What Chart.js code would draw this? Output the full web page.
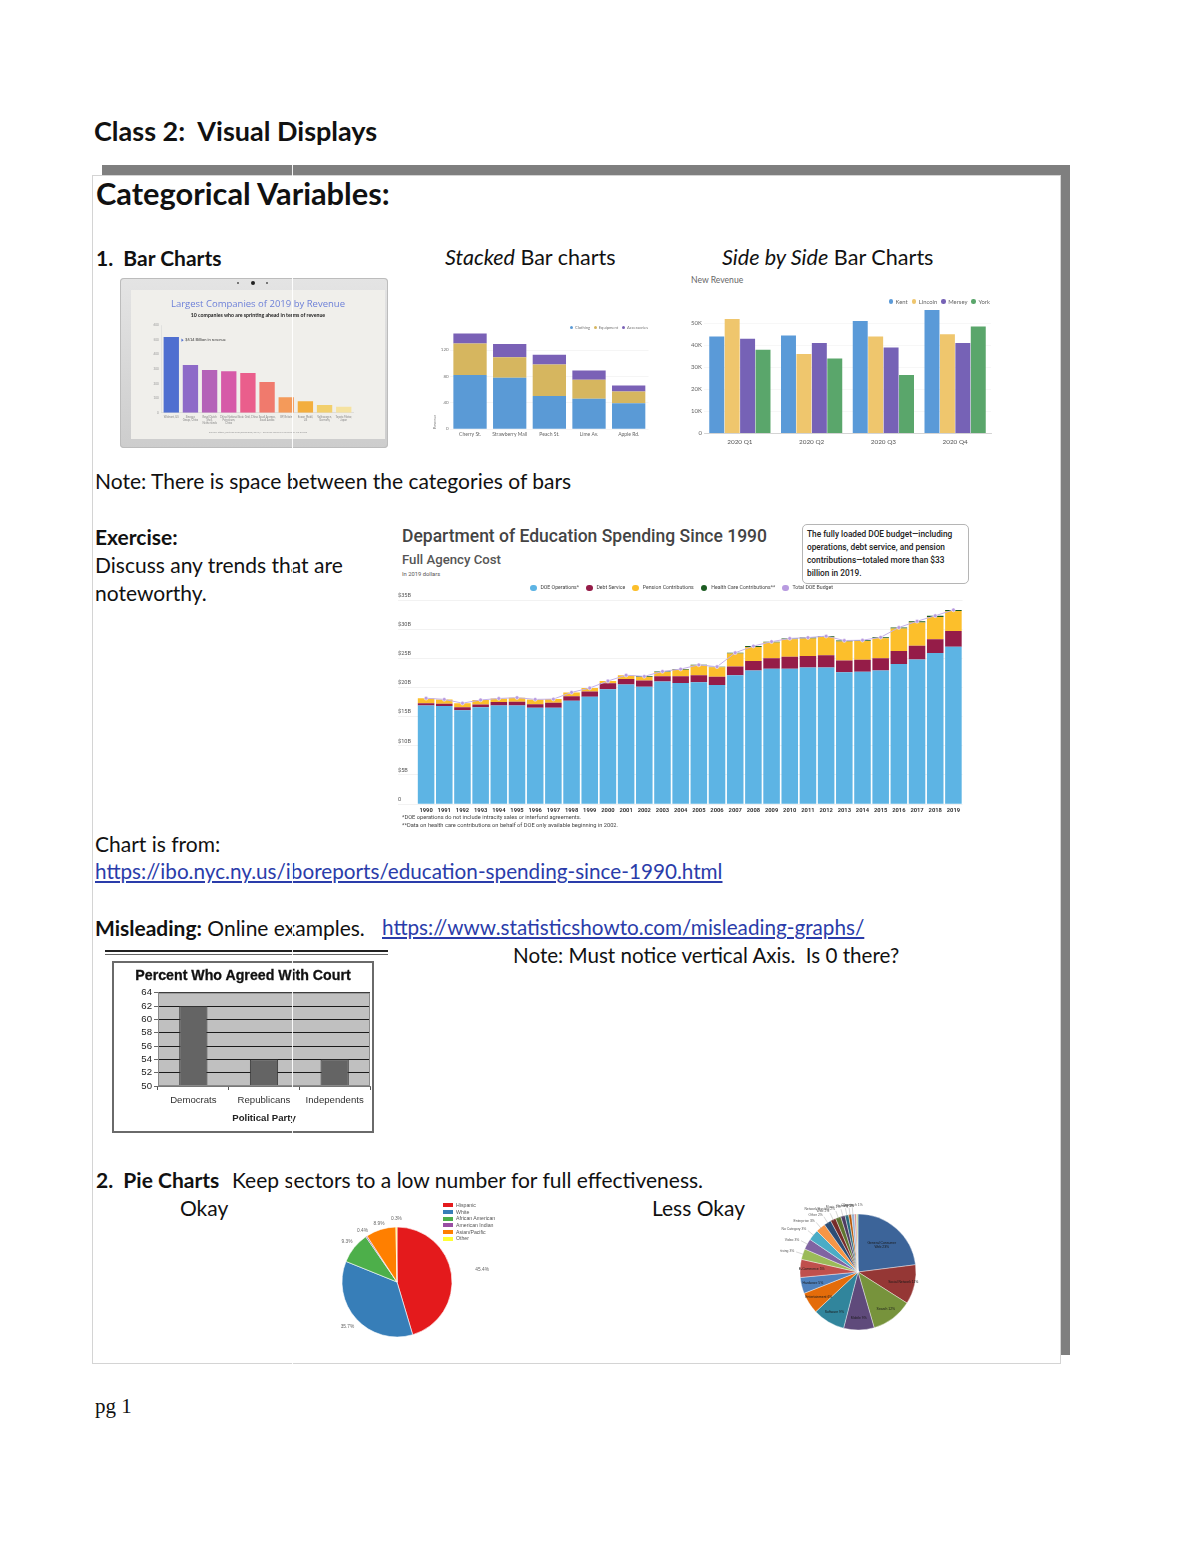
<!DOCTYPE html>
<html lang="en"><head><meta charset="utf-8"><title>Class 2: Visual Displays</title>
<script src="https://cdn.jsdelivr.net/npm/chart.js@4.4.1/dist/chart.umd.min.js"></script>
<style>
html,body{margin:0;padding:0;background:#fff}
body{width:1200px;height:1553px;position:relative;overflow:hidden;font-family:Lato,"Noto Sans",sans-serif;color:#111}
.t{position:absolute;white-space:nowrap;line-height:1}
.bx{position:absolute}
.bx canvas{display:block}
a{color:#2a3caa;text-decoration:underline}
.lg{position:absolute;display:flex;align-items:center;white-space:nowrap;line-height:1}
.lg .i{display:flex;align-items:center}
.p{font-size:21px}
</style></head><body>

<div class="t" style="left:94px;top:117px;font-size:27px;font-weight:700">Class 2:&nbsp; Visual Displays</div>

<div class="bx" style="left:102px;top:165px;width:968px;height:1190px;background:#7f7f7f"></div>
<div class="bx" style="left:92px;top:175px;width:967px;height:1187px;background:#fff;border:1px solid #d4d4d4"></div>

<div class="t" style="left:96px;top:179px;font-size:30.8px;font-weight:700">Categorical Variables:</div>
<div class="t" style="left:96px;top:247px;font-size:21px;font-weight:700">1.&nbsp; Bar Charts</div>
<div class="t" style="left:445px;top:247px;font-size:21.5px"><i>Stacked</i> Bar charts</div>
<div class="t" style="left:722px;top:247px;font-size:21.6px"><i>Side by Side</i> Bar Charts</div>

<!-- tablet frame for chart A -->
<div class="bx" style="left:120px;top:278px;width:268px;height:170px;background:linear-gradient(#e4e4e4,#cdcdcd);border-radius:4px;box-shadow:inset 0 0 0 1px #bcbcbc"></div>
<div class="bx" style="left:237px;top:282px;width:2px;height:2px;border-radius:50%;background:#555"></div>
<div class="bx" style="left:251px;top:281px;width:4px;height:4px;border-radius:50%;background:#222"></div>
<div class="bx" style="left:266px;top:282px;width:2px;height:2px;border-radius:50%;background:#555"></div>
<div class="bx" style="left:131px;top:290px;width:254px;height:149px;background:#f0efeb"><canvas id="chartA"></canvas></div>
<div class="t" style="left:131px;width:254px;text-align:center;top:299px;font-size:9.5px;color:#6d80d8;font-family:'Open Sans',sans-serif">Largest Companies of 2019 by Revenue</div>
<div class="t" style="left:131px;width:254px;text-align:center;top:313px;font-size:5.2px;font-weight:700;color:#222">10 companies who are sprinting ahead in terms of revenue</div>
<div class="t" style="left:131px;width:254px;text-align:center;top:431px;font-size:2.6px;color:#999">Source: https://fortune.com/global500/2019/ · Revenue figures in billions of US dollars</div>

<!-- chart B -->
<div class="bx" style="left:432px;top:318px;width:220px;height:122px"><canvas id="chartB"></canvas></div>
<div class="lg" id="legB" style="right:552px;top:325.5px;font-size:4.1px;color:#777"></div>

<!-- chart C -->
<div class="t" style="left:691px;top:276px;font-size:8.6px;color:#666">New Revenue</div>
<div class="bx" style="left:686px;top:290px;width:308px;height:160px"><canvas id="chartC"></canvas></div>
<div class="lg" id="legC" style="right:210px;top:298.5px;font-size:5.9px;color:#666"></div>

<div class="t p" style="left:95px;top:470px">Note: There is space between the categories of bars</div>

<div class="t p" style="left:95px;top:526px;font-weight:700">Exercise:</div>
<div class="t p" style="left:95px;top:554px">Discuss any trends that are</div>
<div class="t p" style="left:95px;top:582px">noteworthy.</div>

<!-- chart D -->
<div class="t" style="left:402px;top:527.5px;font-size:17.5px;font-weight:500;color:#444;font-family:Roboto,sans-serif">Department of Education Spending Since 1990</div>
<div class="t" style="left:402px;top:553px;font-size:13.2px;font-weight:500;color:#555;font-family:Roboto,sans-serif">Full Agency Cost</div>
<div class="t" style="left:402px;top:572px;font-size:5.8px;color:#555;font-family:Roboto,sans-serif">In 2019 dollars</div>
<div class="bx" style="left:802px;top:524px;width:161px;height:52px;border:1px solid #b5b5b5;border-radius:5px;padding:3px 0 3px 4px;font-family:Roboto,sans-serif;font-size:8.3px;font-weight:500;line-height:13px;color:#222;white-space:nowrap">The fully loaded DOE budget—including<br>operations, debt service, and pension<br>contributions—totaled more than $33<br>billion in 2019.</div>
<div class="bx" style="left:396px;top:590px;width:571px;height:228px"><canvas id="chartD"></canvas></div>
<div class="lg" id="legD" style="left:396px;width:571px;justify-content:center;top:584.5px;font-size:5.2px;color:#444;font-family:Roboto,sans-serif"></div>
<div class="t" style="left:402px;top:815px;font-size:5.7px;color:#444;font-family:Roboto,sans-serif">*DOE operations do not include intracity sales or interfund agreements.</div>
<div class="t" style="left:402px;top:823px;font-size:5.7px;color:#444;font-family:Roboto,sans-serif">**Data on health care contributions on behalf of DOE only available beginning in 2002.</div>

<div class="t p" style="left:95px;top:833px">Chart is from:</div>
<div class="t" style="left:95px;top:861px;font-size:20.7px"><a>https://ibo.nyc.ny.us/iboreports/education-spending-since-1990.html</a></div>

<div class="t p" style="left:95px;top:917px"><b>Misleading:</b> Online examples.</div>
<div class="t" style="left:382px;top:917px;font-size:20.7px"><a>https://www.statisticshowto.com/misleading-graphs/</a></div>
<div class="t" style="left:513px;top:945px;font-size:20.6px">Note: Must notice vertical Axis.&nbsp; Is 0 there?</div>

<!-- chart E -->
<div class="bx" style="left:105px;top:950px;width:283px;height:1.5px;background:#222"></div>
<div class="bx" style="left:105px;top:953.5px;width:283px;height:1px;background:#666"></div>
<div class="bx" style="left:112px;top:961px;width:258px;height:168px;border:2px solid #6a6a6a"></div>
<div class="bx" style="left:114px;top:963px;width:258px;height:168px"><canvas id="chartE"></canvas></div>
<div class="t" style="left:114px;width:258px;text-align:center;top:968px;font-size:14.2px;font-weight:700;color:#111;font-family:'Liberation Sans',Arial,sans-serif;-webkit-text-stroke:0.3px #111">Percent Who Agreed With Court</div>

<div class="t p" style="left:96px;top:1169px"><b>2.&nbsp; Pie Charts</b></div>
<div class="t p" style="left:232px;top:1169px">Keep sectors to a low number for full effectiveness.</div>
<div class="t p" style="left:180px;top:1197px">Okay</div>
<div class="t p" style="left:652px;top:1197px">Less Okay</div>

<div class="bx" style="left:330px;top:1200px;width:175px;height:150px"><canvas id="chartF"></canvas></div>
<div class="bx" id="legF" style="left:443px;top:1202px;font-family:'Liberation Sans',Arial,sans-serif;font-size:5.2px;color:#555;line-height:6.7px"></div>

<div class="bx" style="left:780px;top:1198px;width:150px;height:140px"><canvas id="chartG"></canvas></div>

<div class="t" style="left:95px;top:1396px;font-size:21px;font-family:'Liberation Serif',serif">pg 1</div>

<div class="bx" style="left:291.5px;top:163px;width:1.5px;height:1205px;background:#fff;opacity:0.9"></div>

<script>
// ---------------- data ----------------
const companyLabels = [["Walmart, US"],["Sinopec","Group, China"],["Royal Dutch","Shell,","Netherlands"],["China National","Petroleum,","China"],["State Grid, China"],["Saudi Aramco,","Saudi Arabia"],["BP, Britain"],["Exxon Mobil,","US"],["Volkswagen,","Germany"],["Toyota Motor,","Japan"]];
const companyRevenue = [520, 327, 293, 284, 272, 211, 106, 78, 53, 41];
const companyTicks = [0, 100, 200, 300, 400, 500, 600];

const storeLabels = ["Cherry St.", "Strawberry Mall", "Peach St.", "Lime Av.", "Apple Rd."];
const clothing = [82, 78, 50, 46, 39];
const equipment = [48, 31, 48, 29, 18];
const accessories = [15, 20, 15, 14, 9];
const storeTicks = [0, 40, 80, 120];

const quarters = ["2020 Q1", "2020 Q2", "2020 Q3", "2020 Q4"];
const kent = [44, 44.5, 51, 56];
const lincoln = [52, 36, 44, 45];
const mersey = [43, 41, 39, 41];
const york = [38, 34, 26.5, 48.5];
const revenueTicks = [0, 10, 20, 30, 40, 50];

const years = ["1990","1991","1992","1993","1994","1995","1996","1997","1998","1999","2000","2001","2002","2003","2004","2005","2006","2007","2008","2009","2010","2011","2012","2013","2014","2015","2016","2017","2018","2019"];
const doeOperations = [16.9,16.8,16.1,16.6,16.9,16.9,16.5,16.5,17.7,18.4,19.7,20.5,20.1,21.0,20.75,20.9,20.4,22.1,22.9,23.2,23.2,23.4,23.4,22.6,22.7,22.9,24.0,24.8,25.9,27.0];
const debtService = [0.4,0.4,0.5,0.45,0.6,0.65,0.6,0.85,0.8,0.9,1.0,0.95,1.1,0.9,1.15,1.2,1.45,1.5,1.65,1.8,2.05,2.0,2.1,2.0,2.05,2.1,2.25,2.35,2.35,2.7];
const pensionContrib = [0.85,0.75,0.7,0.8,0.6,0.7,0.85,0.65,0.65,0.6,0.4,0.65,0.6,0.75,1.15,1.65,1.6,2.2,2.4,2.7,3.0,3.0,3.15,3.3,3.2,3.45,3.85,4.0,3.85,3.4];
const healthCare = [0,0,0,0,0,0,0,0,0,0,0,0,0.1,0.1,0.1,0.12,0.1,0.15,0.15,0.15,0.15,0.15,0.15,0.15,0.15,0.15,0.18,0.2,0.2,0.2];
const doeTicks = [0, 5, 10, 15, 20, 25, 30, 35];

const parties = ["Democrats", "Republicans", "Independents"];
const agreedPct = [62, 54, 54];
const agreedTicks = [50, 52, 54, 56, 58, 60, 62, 64];

const ethnicity = ["Hispanic", "White", "African American", "American Indian", "Asian/Pacific", "Other"];
const ethnicityPct = [45.4, 35.7, 9.3, 0.4, 8.9, 0.3];

const sectors = ["General Consumer Web","Social Network","Search","Mobile","Software","Entertainment","Hardware","E-Commerce","Advertising","Video","No Category","Enterprise","Other","Web","Network/Hosting","Music","Gaming","VR","Cleantech","",""];
const sectorPct = [23, 11, 11.5, 8.5, 9, 6, 4.5, 5, 3, 3, 3, 2.7, 2, 1.5, 1.5, 1.2, 1, 0.8, 0.8, 0.6, 0.4];

// ---------------- styles ----------------
const companyColors = ["#4f6fd0","#8e6ac8","#b462b8","#d65aa8","#ea5e8c","#f07a6d","#f49a5a","#f3ae3e","#f2cf6c","#f5e2a0"];
const ethnicityColors = ["#e41a1c","#377eb8","#4daf4a","#984ea3","#ff7f00","#ffff33"];
const ethnicityLabelGap = [31, 12, 9, 7, 6, 8];
const sectorColors = ["#3c6499","#953735","#77933c","#5f4a7b","#31859c","#e46c0a","#4f81bd","#c0504d","#9bbb59","#8064a2","#4bacc6","#f79646","#2c4d75","#772c2a","#5f7530","#4d3b62","#276a7c","#b65708","#95b3d7","#d99694","#c3d69b"];

Chart.defaults.animation = false;
Chart.defaults.responsive = true;
Chart.defaults.maintainAspectRatio = false;
Chart.defaults.plugins.legend.display = false;
Chart.defaults.plugins.tooltip.enabled = false;
Chart.defaults.font.family = 'Lato';

const setTicks = arr => s => { s.ticks = arr.map(v => ({value: v})); };

function buildLegend(id, chart, dot, gap) {
  const el = document.getElementById(id);
  chart.data.datasets.forEach((ds, i) => {
    const it = document.createElement('span');
    it.className = 'i';
    it.style.marginLeft = i ? gap + 'px' : '0';
    const c = document.createElement('span');
    const col = ds.type === 'line' ? ds.pointBackgroundColor : ds.backgroundColor;
    c.style.cssText = `display:inline-block;width:${dot}px;height:${dot}px;border-radius:50%;background:${col};margin-right:${dot*0.6}px`;
    it.appendChild(c);
    it.appendChild(document.createTextNode(ds.label));
    el.appendChild(it);
  });
}

// ---------------- chart A ----------------
const annotA = {id:'annotA', afterDatasetsDraw(chart){
  const b = chart.getDatasetMeta(0).data[0]; const ctx = chart.ctx;
  const x = b.x + b.width/2 + 2.5, y = b.y + 3.2;
  ctx.save(); ctx.fillStyle = '#4f6fd0'; ctx.beginPath();
  ctx.moveTo(x, y-1.6); ctx.lineTo(x+2.2, y); ctx.lineTo(x, y+1.6); ctx.closePath(); ctx.fill();
  ctx.fillStyle = '#333'; ctx.font = '4px Lato'; ctx.textBaseline = 'middle';
  ctx.fillText('$514 Billion in revenue', x + 3.8, y); ctx.restore();
}};
new Chart(document.getElementById('chartA'), {
  type: 'bar',
  data: {labels: companyLabels, datasets: [{data: companyRevenue, backgroundColor: companyColors, barPercentage: 0.8, categoryPercentage: 1}]},
  options: {
    layout: {padding: {left: 14, right: 31.7, top: 35.3, bottom: 12.3}},
    scales: {
      x: {grid: {display: false, drawTicks: false}, border: {color: '#d0d0d0', width: 0.6},
          ticks: {font: {size: 2.7}, color: '#888', maxRotation: 0, autoSkip: false, padding: 2.5},
          afterFit: s => { s.height = 14; }},
      y: {min: 0, max: 600, afterBuildTicks: setTicks(companyTicks), grid: {display: false, drawTicks: false},
          border: {color: '#d6d6d6', width: 0.6},
          ticks: {font: {size: 3}, color: '#999', padding: 3, autoSkip: false},
          afterFit: s => { s.width = 16.7; }}
    }
  },
  plugins: [annotA]
});

// ---------------- chart B ----------------
const chartB = new Chart(document.getElementById('chartB'), {
  type: 'bar',
  data: {labels: storeLabels, datasets: [
    {label: 'Clothing', data: clothing, backgroundColor: '#5a9ad6'},
    {label: 'Equipment', data: equipment, backgroundColor: '#d6b65f'},
    {label: 'Accessories', data: accessories, backgroundColor: '#7a61b6'}
  ]},
  options: {
    datasets: {bar: {barPercentage: 0.84, categoryPercentage: 1}},
    layout: {padding: {left: 0, right: 3.5, top: 12.3, bottom: 2}},
    scales: {
      x: {stacked: true, grid: {display: false, drawTicks: false}, border: {display: false},
          ticks: {font: {size: 5}, color: '#666', padding: 2.5, maxRotation: 0, autoSkip: false},
          afterFit: s => { s.height = 9; }},
      y: {stacked: true, min: 0, max: 150, afterBuildTicks: setTicks(storeTicks),
          grid: {color: '#eeeeee', lineWidth: 0.6, drawTicks: false}, border: {display: false},
          ticks: {font: {size: 4.5}, color: '#777', padding: 1.5, autoSkip: false},
          title: {display: true, text: 'Revenue', align: 'start', font: {size: 3.8}, color: '#777', padding: 0},
          afterFit: s => { s.width = 18.2; }}
    }
  }
});
buildLegend('legB', chartB, 3.3, 3.5);

// ---------------- chart C ----------------
const chartC = new Chart(document.getElementById('chartC'), {
  type: 'bar',
  data: {labels: quarters, datasets: [
    {label: 'Kent', data: kent, backgroundColor: '#5a9ad8'},
    {label: 'Lincoln', data: lincoln, backgroundColor: '#efc66d'},
    {label: 'Mersey', data: mersey, backgroundColor: '#7662b6'},
    {label: 'York', data: york, backgroundColor: '#5aa66b'}
  ]},
  options: {
    datasets: {bar: {barPercentage: 0.97, categoryPercentage: 0.86}},
    layout: {padding: {left: 0, right: 3, top: 15.7, bottom: 3.7}},
    scales: {
      x: {grid: {display: false, drawTicks: false}, border: {color: '#cccccc', width: 0.8},
          ticks: {font: {size: 6.4}, color: '#555', padding: 4.5, autoSkip: false},
          afterFit: s => { s.height = 13; }},
      y: {min: 0, max: 58, afterBuildTicks: setTicks(revenueTicks),
          grid: {color: '#f2f2f2', lineWidth: 0.6, drawTicks: false}, border: {display: false},
          ticks: {font: {size: 6}, color: '#666', padding: 2, autoSkip: false, callback: v => v === 0 ? '0' : v + 'K'},
          afterFit: s => { s.width = 18; }}
    }
  }
});
buildLegend('legC', chartC, 4.4, 4);

// ---------------- chart D ----------------
const doeTotal = years.map((_, i) => +(doeOperations[i] + debtService[i] + pensionContrib[i] + healthCare[i]).toFixed(2));
const chartD = new Chart(document.getElementById('chartD'), {
  data: {labels: years, datasets: [
    {type: 'bar', label: 'DOE Operations*', data: doeOperations, backgroundColor: '#5db4e4', stack: 'a', order: 1},
    {type: 'bar', label: 'Debt Service', data: debtService, backgroundColor: '#951c48', stack: 'a', order: 1},
    {type: 'bar', label: 'Pension Contributions', data: pensionContrib, backgroundColor: '#fcbf2b', stack: 'a', order: 1},
    {type: 'bar', label: 'Health Care Contributions**', data: healthCare, backgroundColor: '#1c5c22', stack: 'a', order: 1},
    {type: 'line', label: 'Total DOE Budget', data: doeTotal, stack: 'line', order: 0,
     borderColor: '#c4b0e8', borderWidth: 1, pointRadius: 1.9, pointBackgroundColor: '#b89be0', pointBorderColor: '#ffffff', pointBorderWidth: 0.5}
  ]},
  options: {
    datasets: {bar: {barPercentage: 0.91, categoryPercentage: 1}},
    layout: {padding: {left: 2, right: 2, top: 10, bottom: 3}},
    scales: {
      x: {stacked: true, grid: {display: false, drawTicks: false}, border: {display: false},
          ticks: {font: {size: 5.8, weight: 'bold', family: 'Roboto'}, color: '#333', padding: 3, maxRotation: 0, autoSkip: false},
          afterFit: s => { s.height = 11; }},
      y: {stacked: true, min: 0, max: 35, afterBuildTicks: setTicks(doeTicks),
          grid: {color: '#e9e9e9', lineWidth: 0.6, tickLength: 19, tickColor: '#e9e9e9'}, border: {display: false},
          ticks: {font: {size: 5.6, family: 'Roboto'}, color: '#555', padding: 0, crossAlign: 'far', labelOffset: -4.5, autoSkip: false,
                  callback: v => v === 0 ? '0' : '$' + v + 'B'},
          afterFit: s => { s.width = 19; }}
    }
  }
});
buildLegend('legD', chartD, 6.5, 7);

// ---------------- chart E ----------------
const plotBgE = {id: 'plotBgE',
  beforeDraw(chart){ const a = chart.chartArea, ctx = chart.ctx; ctx.save(); ctx.fillStyle = '#c0c0c0'; ctx.fillRect(a.left, a.top, a.right - a.left, a.bottom - a.top); ctx.restore(); },
  afterDraw(chart){ const a = chart.chartArea, ctx = chart.ctx; ctx.save(); ctx.strokeStyle = '#8a8a8a'; ctx.lineWidth = 1; ctx.strokeRect(a.left + 0.5, a.top + 0.5, a.right - a.left - 1, a.bottom - a.top - 1); ctx.restore(); }
};
new Chart(document.getElementById('chartE'), {
  type: 'bar',
  data: {labels: parties, datasets: [{data: agreedPct, backgroundColor: '#646464', borderColor: '#333333', borderWidth: 1, barPercentage: 0.4, categoryPercentage: 1}]},
  options: {
    layout: {padding: {left: 0, right: 2, top: 29.7, bottom: 7}},
    scales: {
      x: {grid: {drawOnChartArea: false, offset: true, tickLength: 4, color: '#555'}, border: {color: '#777'},
          ticks: {font: {size: 9.6, family: 'Liberation Sans'}, color: '#333', padding: 5, autoSkip: false},
          title: {display: true, text: 'Political Party', font: {size: 9.6, weight: 'bold', family: 'Liberation Sans'}, color: '#222', padding: {top: 2, bottom: 0}},
          afterFit: s => { s.height = 38; }},
      y: {min: 50, max: 64, afterBuildTicks: setTicks(agreedTicks),
          grid: {color: '#1a1a1a', lineWidth: 1, tickLength: 4, tickColor: '#666'}, border: {color: '#777'},
          ticks: {font: {size: 9.6, family: 'Liberation Sans'}, color: '#222', padding: 2, autoSkip: false},
          afterFit: s => { s.width = 44; }}
    }
  },
  plugins: [plotBgE]
});

// ---------------- chart F (pie, okay) ----------------
const pieLabelsF = {id: 'pieLabelsF', afterDatasetsDraw(chart){
  const ctx = chart.ctx; const meta = chart.getDatasetMeta(0);
  ctx.save(); ctx.font = '4.8px "Liberation Sans"'; ctx.fillStyle = '#666'; ctx.textAlign = 'center'; ctx.textBaseline = 'middle';
  meta.data.forEach((arc, i) => {
    const a = (arc.startAngle + arc.endAngle) / 2; const r = arc.outerRadius + ethnicityLabelGap[i];
    ctx.fillText(ethnicityPct[i].toFixed(1) + '%', arc.x + Math.cos(a) * r, arc.y + Math.sin(a) * r);
  });
  ctx.restore();
}};
new Chart(document.getElementById('chartF'), {
  type: 'pie',
  data: {labels: ethnicity, datasets: [{data: ethnicityPct, backgroundColor: ethnicityColors, borderColor: '#ffffff', borderWidth: 0.6}]},
  options: {radius: 55, layout: {padding: {left: 12, right: 53, top: 27, bottom: 13}}},
  plugins: [pieLabelsF]
});
(function(){
  const el = document.getElementById('legF');
  ethnicity.forEach((n, i) => {
    const row = document.createElement('div');
    row.style.cssText = 'display:flex;align-items:center;height:6.7px;white-space:nowrap';
    const sw = document.createElement('span');
    sw.style.cssText = `display:inline-block;width:10px;height:4px;background:${ethnicityColors[i]};margin-right:3px`;
    row.appendChild(sw); row.appendChild(document.createTextNode(n)); el.appendChild(row);
  });
})();

// ---------------- chart G (pie, less okay) ----------------
const pieLabelsG = {id: 'pieLabelsG', afterDatasetsDraw(chart){
  const ctx = chart.ctx; const meta = chart.getDatasetMeta(0);
  ctx.save(); ctx.font = '3.4px "Liberation Sans"'; ctx.textBaseline = 'middle';
  meta.data.forEach((arc, i) => {
    if (!sectors[i]) return;
    const a = (arc.startAngle + arc.endAngle) / 2; const R = arc.outerRadius; const cx = arc.x, cy = arc.y;
    const txt = sectors[i] + ' ' + Math.round(sectorPct[i]) + '%';
    if (sectorPct[i] >= 4) {
      ctx.fillStyle = '#1a1a1a'; ctx.textAlign = 'center';
      const r = R * (i === 0 ? 0.62 : 0.8);
      if (i === 0) {
        ctx.fillText('General Consumer', cx + Math.cos(a) * r, cy + Math.sin(a) * r - 2);
        ctx.fillText('Web ' + Math.round(sectorPct[i]) + '%', cx + Math.cos(a) * r, cy + Math.sin(a) * r + 2);
      } else ctx.fillText(txt, cx + Math.cos(a) * r, cy + Math.sin(a) * r);
    } else {
      ctx.strokeStyle = '#999'; ctx.lineWidth = 0.4; ctx.beginPath();
      ctx.moveTo(cx + Math.cos(a) * R * 0.97, cy + Math.sin(a) * R * 0.97);
      ctx.lineTo(cx + Math.cos(a) * (R + 7), cy + Math.sin(a) * (R + 7)); ctx.stroke();
      const lx = cx + Math.cos(a) * (R + 9), ly = cy + Math.sin(a) * (R + 9);
      ctx.fillStyle = '#555'; ctx.textAlign = Math.cos(a) < -0.2 ? 'right' : (Math.cos(a) > 0.2 ? 'left' : 'center');
      ctx.fillText(txt, lx, ly);
    }
  });
  ctx.restore();
}};
new Chart(document.getElementById('chartG'), {
  type: 'pie',
  data: {labels: sectors, datasets: [{data: sectorPct, backgroundColor: sectorColors, borderColor: '#ffffff', borderWidth: 0.4}]},
  options: {radius: 58, layout: {padding: {left: 20, right: 14, top: 16, bottom: 8}}},
  plugins: [pieLabelsG]
});
</script>
</body></html>
